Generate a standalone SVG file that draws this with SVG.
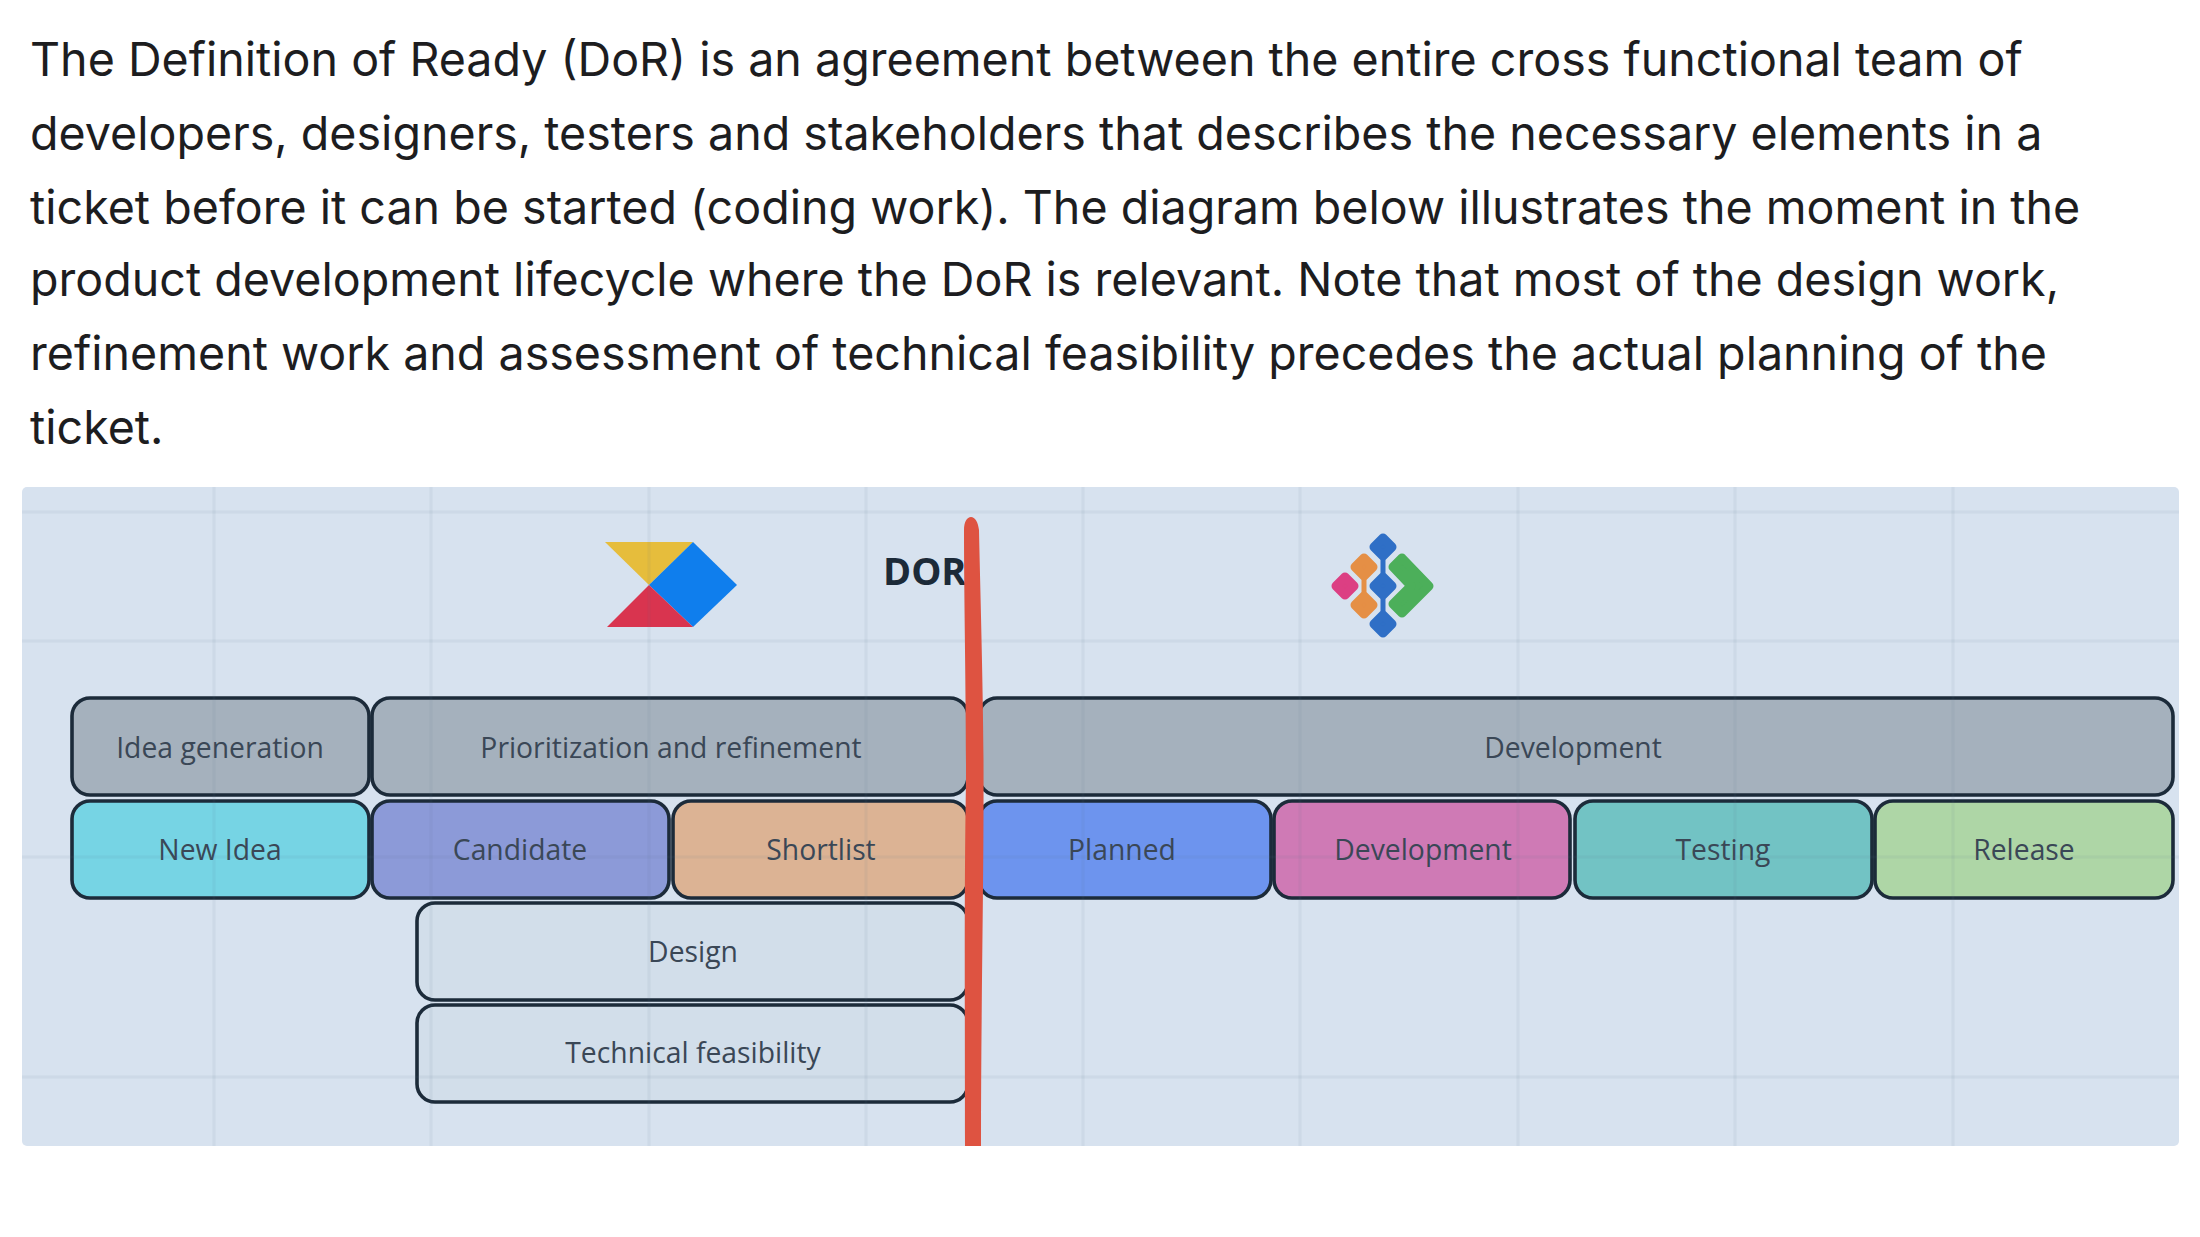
<svg xmlns="http://www.w3.org/2000/svg" width="2200" height="1237" viewBox="0 0 2200 1237">
<style>
.p{font-family:"Inter","Liberation Sans",sans-serif;font-size:46.6px;fill:#1d1d1f}
.l{font-family:"Open Sans","Noto Sans",sans-serif;font-size:28.3px;fill:#3a4756;text-anchor:middle}
.b{stroke:#1c2b3a;stroke-width:3.6}
.g{stroke:#5a6f88;stroke-opacity:.08;stroke-width:3;fill:none}
</style>
<rect width="2200" height="1237" fill="#fff"/>
<g id="paragraph">
<text class="p" x="30" y="76">The Definition of Ready (DoR) is an agreement between the entire cross functional team of</text>
<text class="p" x="30" y="150">developers, designers, testers and stakeholders that describes the necessary elements in a</text>
<text class="p" x="30" y="224">ticket before it can be started (coding work). The diagram below illustrates the moment in the</text>
<text class="p" x="30" y="296">product development lifecycle where the DoR is relevant. Note that most of the design work,</text>
<text class="p" x="30" y="370">refinement work and assessment of technical feasibility precedes the actual planning of the</text>
<text class="p" x="30" y="444">ticket.</text>
</g>
<rect id="panel" x="22" y="487" width="2157" height="659" rx="5" fill="#d7e2ef"/>
<g id="logo-left">
<polygon points="605,542 693,542 649,585" fill="#e6bd3c"/>
<polygon points="693,542 737,585 693,627 649,585" fill="#0f7eed"/>
<polygon points="607,627 693,627 649,585" fill="#d9344f"/>
</g>
<g id="logo-right">
<path d="M1383 547V624" stroke="#2f6fc6" stroke-width="5" fill="none"/>
<path d="M1364 567V605" stroke="#e58f45" stroke-width="5"/>
<g stroke-width="9" stroke-linejoin="round">
<polygon points="1383,538 1392,547 1383,556 1374,547" fill="#2f6fc6" stroke="#2f6fc6"/>
<polygon points="1383,577 1392,586 1383,595 1374,586" fill="#2f6fc6" stroke="#2f6fc6"/>
<polygon points="1383,615 1392,624 1383,633 1374,624" fill="#2f6fc6" stroke="#2f6fc6"/>
<polygon points="1364,558 1373,567 1364,576 1355,567" fill="#e58f45" stroke="#e58f45"/>
<polygon points="1364,596 1373,605 1364,614 1355,605" fill="#e58f45" stroke="#e58f45"/>
<polygon points="1345,577 1354,586 1345,595 1336,586" fill="#dc3f83" stroke="#dc3f83"/>
<polygon points="1393,567 1402,558 1429,586 1402,613 1393,604 1411,586" fill="#4caf5a" stroke="#4caf5a"/>
</g>
</g>
<text id="dor" x="883" y="585" style="font-family:'Open Sans','Noto Sans',sans-serif;font-weight:700;font-size:38px;fill:#1c2a38">DOR</text>
<g id="n-idea-generation"><rect class="b" x="72" y="698" width="297" height="97" rx="18" fill="#a5b1bd"/><text class="l" x="220" y="758">Idea generation</text></g>
<g id="n-prioritization"><rect class="b" x="372" y="698" width="596" height="97" rx="18" fill="#a5b1bd"/><text class="l" x="671" y="758">Prioritization and refinement</text></g>
<g id="n-development-phase"><rect class="b" x="979" y="698" width="1194" height="97" rx="18" fill="#a5b1bd"/><text class="l" x="1573" y="758">Development</text></g>
<g id="n-new-idea"><rect class="b" x="72" y="801" width="297" height="97" rx="18" fill="#76d4e4"/><text class="l" x="220" y="860">New Idea</text></g>
<g id="n-candidate"><rect class="b" x="372" y="801" width="297" height="97" rx="18" fill="#8c9ad8"/><text class="l" x="520" y="860">Candidate</text></g>
<g id="n-shortlist"><rect class="b" x="673" y="801" width="295" height="97" rx="18" fill="#dcb394"/><text class="l" x="821" y="860">Shortlist</text></g>
<g id="n-planned"><rect class="b" x="979" y="801" width="292" height="97" rx="18" fill="#6d94ee"/><text class="l" x="1122" y="860">Planned</text></g>
<g id="n-development"><rect class="b" x="1274" y="801" width="296" height="97" rx="18" fill="#cf7ab5"/><text class="l" x="1423" y="860">Development</text></g>
<g id="n-testing"><rect class="b" x="1575" y="801" width="297" height="97" rx="18" fill="#72c3c4"/><text class="l" x="1723" y="860">Testing</text></g>
<g id="n-release"><rect class="b" x="1875" y="801" width="298" height="97" rx="18" fill="#aed6a6"/><text class="l" x="2024" y="860">Release</text></g>
<g id="n-design"><rect class="b" x="417" y="903" width="551" height="97" rx="18" fill="#d2deea"/><text class="l" x="693" y="962">Design</text></g>
<g id="n-technical-feasibility"><rect class="b" x="417" y="1005" width="551" height="97" rx="18" fill="#d2deea"/><text class="l" x="693" y="1063">Technical feasibility</text></g>
<g id="grid" class="g">
<path d="M214 487V1146M431 487V1146M649 487V1146M866 487V1146M1083 487V1146M1300 487V1146M1518 487V1146M1735 487V1146M1953 487V1146"/>
<path d="M22 512H2179M22 641H2179M22 857H2179M22 1077H2179"/>
</g>
<g id="connectors">
<path d="M964 530C964 522 967 517 971 517C975 517 978 522 979 530C980 580 983 680 983.500 760C984 880 981 1000 981 1146H965C965 1000 964 900 966 780C966 680 964 600 964 530Z" fill="#de5341"/>
</g>
</svg>
